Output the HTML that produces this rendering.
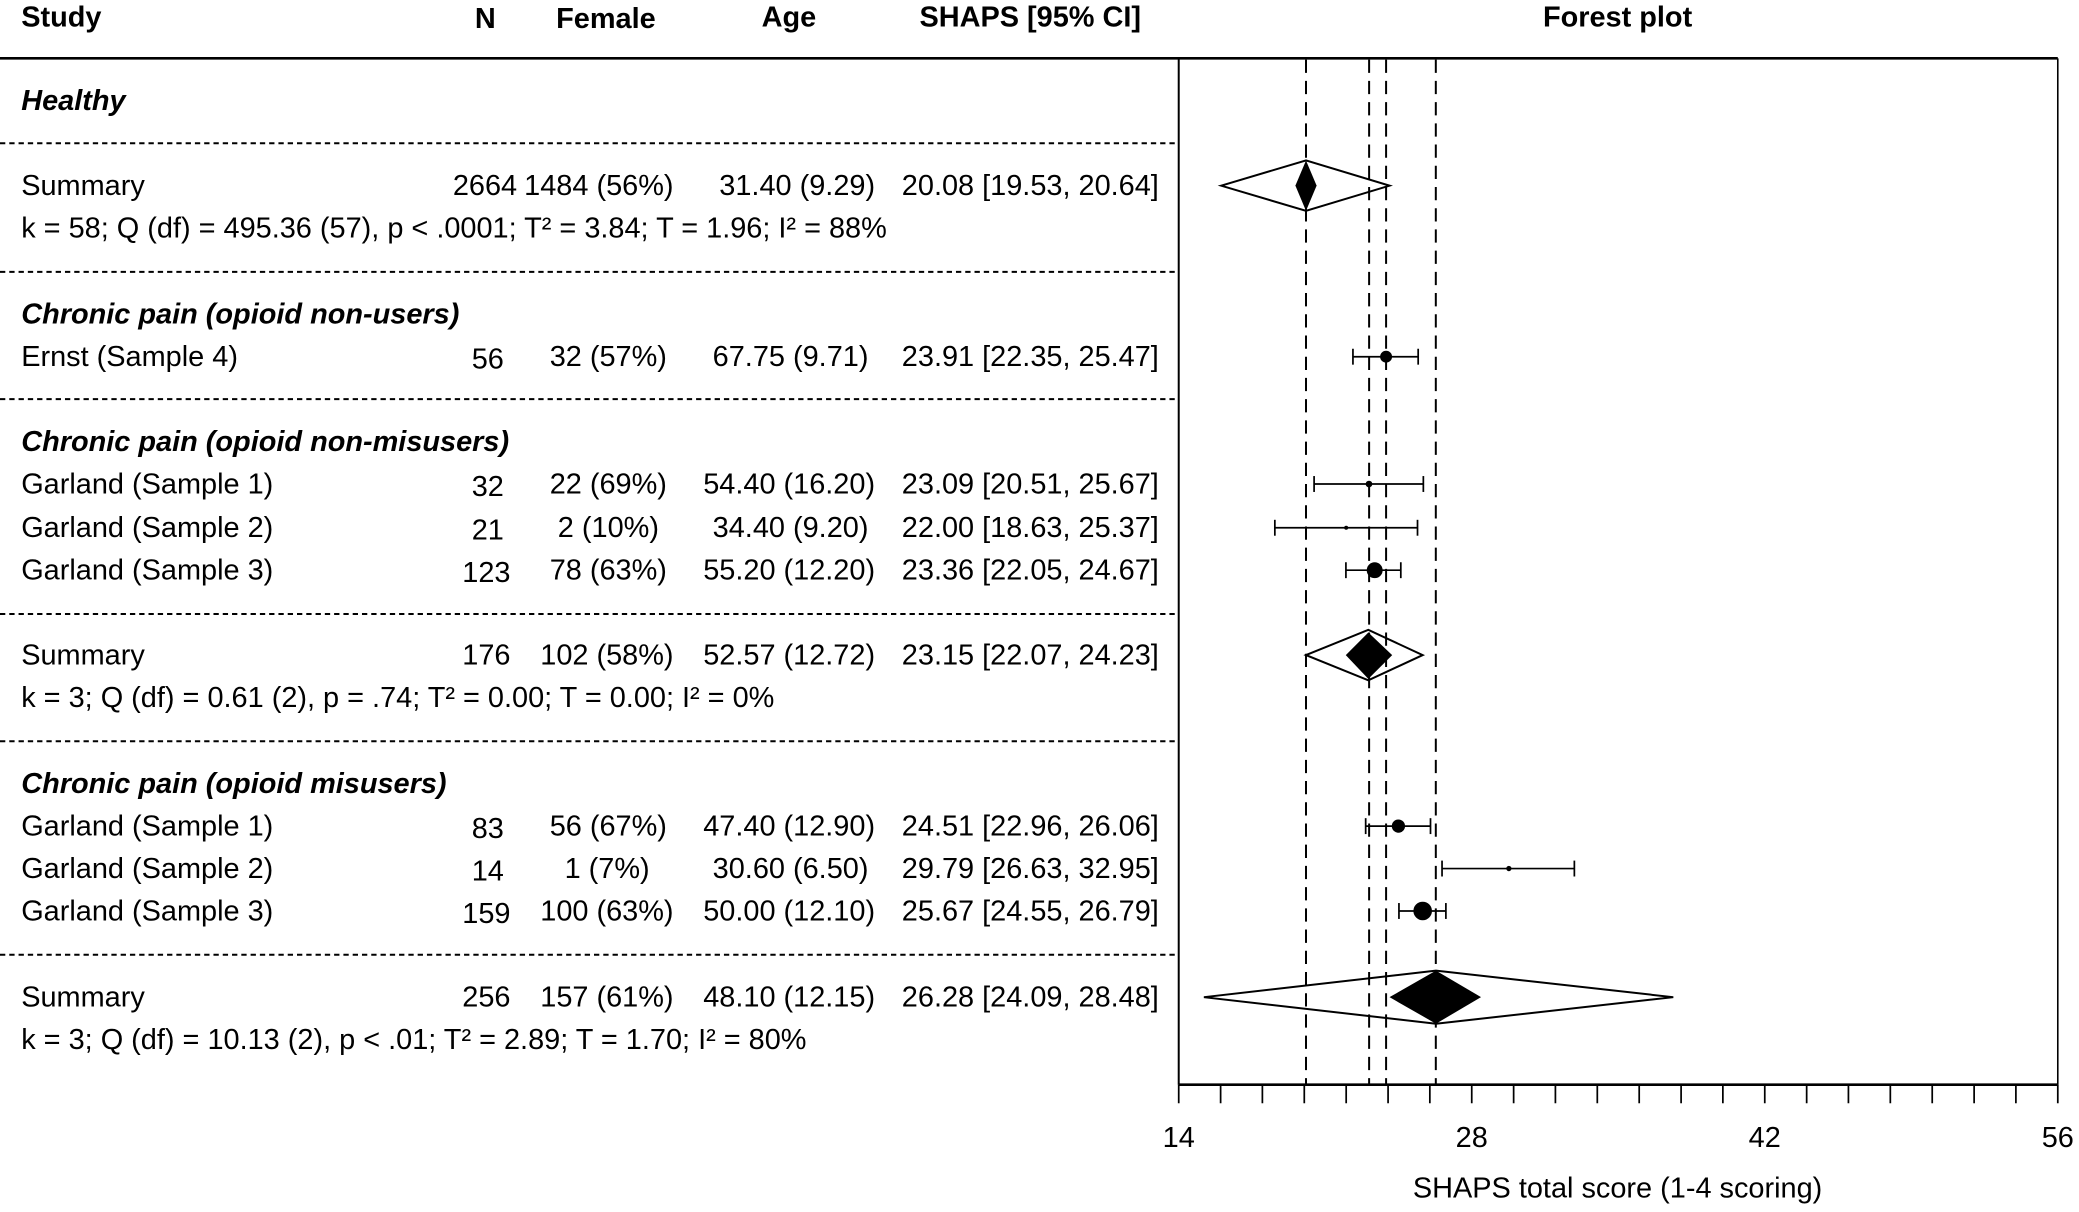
<!DOCTYPE html>
<html><head><meta charset="utf-8"><style>
html,body{margin:0;padding:0;background:#fff;}
svg{display:block;}
text{font-family:"Liberation Sans",Arial,sans-serif;font-size:21.8px;fill:#000;}
.b{font-weight:bold;}
.bi{font-weight:bold;font-style:italic;}
.e{text-anchor:end;}
.m{text-anchor:middle;}
</style></head><body>
<svg width="2079" height="1212" viewBox="0 0 1568 914" preserveAspectRatio="none" xmlns="http://www.w3.org/2000/svg">
<rect width="1568" height="914" fill="#fff"/>
<text class="b" x="16" y="20">Study</text>
<text class="b m" x="366" y="21">N</text>
<text class="b m" x="457" y="21">Female</text>
<text class="b m" x="595" y="20">Age</text>
<text class="b m" x="777" y="20">SHAPS [95% CI]</text>
<text class="b m" x="1220" y="20">Forest plot</text>
<line x1="0" y1="44" x2="1552" y2="44" stroke="#000" stroke-width="2"/>
<g stroke="#000" stroke-width="1.5" stroke-dasharray="4,3">
<line x1="0" y1="108" x2="889" y2="108"/>
<line x1="0" y1="205" x2="889" y2="205"/>
<line x1="0" y1="301" x2="889" y2="301"/>
<line x1="0" y1="463" x2="889" y2="463"/>
<line x1="0" y1="559" x2="889" y2="559"/>
<line x1="0" y1="720" x2="889" y2="720"/>
</g>
<line x1="889" y1="44" x2="889" y2="818" stroke="#000" stroke-width="1.5"/>
<line x1="1552" y1="44" x2="1552" y2="818" stroke="#000" stroke-width="1.2"/>
<line x1="889" y1="818" x2="1552" y2="818" stroke="#000" stroke-width="2"/>
<g stroke="#000" stroke-width="1.3">
<line x1="889" y1="818" x2="889" y2="832"/><line x1="920.6" y1="818" x2="920.6" y2="832"/><line x1="952.1" y1="818" x2="952.1" y2="832"/><line x1="983.7" y1="818" x2="983.7" y2="832"/><line x1="1015.3" y1="818" x2="1015.3" y2="832"/><line x1="1046.9" y1="818" x2="1046.9" y2="832"/><line x1="1078.4" y1="818" x2="1078.4" y2="832"/><line x1="1110" y1="818" x2="1110" y2="832"/><line x1="1141.6" y1="818" x2="1141.6" y2="832"/><line x1="1173.1" y1="818" x2="1173.1" y2="832"/><line x1="1204.7" y1="818" x2="1204.7" y2="832"/><line x1="1236.3" y1="818" x2="1236.3" y2="832"/><line x1="1267.9" y1="818" x2="1267.9" y2="832"/><line x1="1299.4" y1="818" x2="1299.4" y2="832"/><line x1="1331" y1="818" x2="1331" y2="832"/><line x1="1362.6" y1="818" x2="1362.6" y2="832"/><line x1="1394.1" y1="818" x2="1394.1" y2="832"/><line x1="1425.7" y1="818" x2="1425.7" y2="832"/><line x1="1457.3" y1="818" x2="1457.3" y2="832"/><line x1="1488.9" y1="818" x2="1488.9" y2="832"/><line x1="1520.4" y1="818" x2="1520.4" y2="832"/><line x1="1552" y1="818" x2="1552" y2="832"/>
</g>
<text class="m" x="889" y="865">14</text>
<text class="m" x="1110" y="865">28</text>
<text class="m" x="1331" y="865">42</text>
<text class="m" x="1552" y="865">56</text>
<text class="m" x="1220" y="903">SHAPS total score (1-4 scoring)</text>
<g stroke="#000" stroke-width="1.5" stroke-dasharray="10,6">
<line x1="985" y1="45" x2="985" y2="818"/>
<line x1="1032.6" y1="45" x2="1032.6" y2="818"/>
<line x1="1045.4" y1="45" x2="1045.4" y2="818"/>
<line x1="1082.9" y1="45" x2="1082.9" y2="818"/>
</g>
<polygon points="921,140 985,121 1048,140 985,159" fill="none" stroke="#000" stroke-width="1.5"/>
<polygon points="977,140 985,121 993,140 985,159" fill="#000"/>
<polygon points="985,494 1032,475 1073,494 1032,513" fill="none" stroke="#000" stroke-width="1.5"/>
<polygon points="1015,494 1032,477 1050,494 1032,512" fill="#000"/>
<polygon points="908,752 1083,732 1262,752 1083,772" fill="none" stroke="#000" stroke-width="1.5"/>
<polygon points="1048,752 1083,732 1117,752 1083,772" fill="#000"/>
<g stroke="#000" stroke-width="1.3">
<line x1="1020.4" y1="269" x2="1069.6" y2="269"/><line x1="1020.4" y1="263" x2="1020.4" y2="275"/><line x1="1069.6" y1="263" x2="1069.6" y2="275"/>
<line x1="991.1" y1="365" x2="1073.5" y2="365"/><line x1="991.1" y1="359" x2="991.1" y2="371"/><line x1="1073.5" y1="359" x2="1073.5" y2="371"/>
<line x1="961.5" y1="398" x2="1069.1" y2="398"/><line x1="961.5" y1="392" x2="961.5" y2="404"/><line x1="1069.1" y1="392" x2="1069.1" y2="404"/>
<line x1="1015.1" y1="430" x2="1056.5" y2="430"/><line x1="1015.1" y1="424" x2="1015.1" y2="436"/><line x1="1056.5" y1="424" x2="1056.5" y2="436"/>
<line x1="1030.0" y1="623" x2="1078.9" y2="623"/><line x1="1030.0" y1="617" x2="1030.0" y2="629"/><line x1="1078.9" y1="617" x2="1078.9" y2="629"/>
<line x1="1087.6" y1="655" x2="1187.4" y2="655"/><line x1="1087.6" y1="649" x2="1087.6" y2="661"/><line x1="1187.4" y1="649" x2="1187.4" y2="661"/>
<line x1="1055.1" y1="687" x2="1090.5" y2="687"/><line x1="1055.1" y1="681" x2="1055.1" y2="693"/><line x1="1090.5" y1="681" x2="1090.5" y2="693"/>
</g>
<circle cx="1045.4" cy="269" r="4.5" fill="#000"/>
<circle cx="1032.5" cy="365" r="2.5" fill="#000"/>
<circle cx="1015.3" cy="398" r="1.5" fill="#000"/>
<circle cx="1036.8" cy="430" r="6" fill="#000"/>
<circle cx="1054.7" cy="623" r="5" fill="#000"/>
<circle cx="1138" cy="655" r="2" fill="#000"/>
<circle cx="1073" cy="687" r="7" fill="#000"/>
<text class="bi" x="16" y="83">Healthy</text>
<text x="16" y="147">Summary</text><text class="e" x="390" y="147">2664</text><text class="e" x="508" y="147">1484 (56%)</text><text class="e" x="660" y="147">31.40 (9.29)</text><text class="e" x="874" y="147">20.08 [19.53, 20.64]</text>
<text x="16" y="179">k = 58; Q (df) = 495.36 (57), p &lt; .0001; T² = 3.84; T = 1.96; I² = 88%</text>
<text class="bi" x="16" y="244">Chronic pain (opioid non-users)</text>
<text x="16" y="276">Ernst (Sample 4)</text><text class="e" x="380" y="278">56</text><text class="e" x="503" y="276">32 (57%)</text><text class="e" x="655" y="276">67.75 (9.71)</text><text class="e" x="874" y="276">23.91 [22.35, 25.47]</text>
<text class="bi" x="16" y="340">Chronic pain (opioid non-misusers)</text>
<text x="16" y="372">Garland (Sample 1)</text><text class="e" x="380" y="374">32</text><text class="e" x="503" y="372">22 (69%)</text><text class="e" x="660" y="372">54.40 (16.20)</text><text class="e" x="874" y="372">23.09 [20.51, 25.67]</text>
<text x="16" y="405">Garland (Sample 2)</text><text class="e" x="380" y="407">21</text><text class="e" x="497" y="405">2 (10%)</text><text class="e" x="655" y="405">34.40 (9.20)</text><text class="e" x="874" y="405">22.00 [18.63, 25.37]</text>
<text x="16" y="437">Garland (Sample 3)</text><text class="e" x="385" y="439">123</text><text class="e" x="503" y="437">78 (63%)</text><text class="e" x="660" y="437">55.20 (12.20)</text><text class="e" x="874" y="437">23.36 [22.05, 24.67]</text>
<text x="16" y="501">Summary</text><text class="e" x="385" y="501">176</text><text class="e" x="508" y="501">102 (58%)</text><text class="e" x="660" y="501">52.57 (12.72)</text><text class="e" x="874" y="501">23.15 [22.07, 24.23]</text>
<text x="16" y="533">k = 3; Q (df) = 0.61 (2), p = .74; T² = 0.00; T = 0.00; I² = 0%</text>
<text class="bi" x="16" y="598">Chronic pain (opioid misusers)</text>
<text x="16" y="630">Garland (Sample 1)</text><text class="e" x="380" y="632">83</text><text class="e" x="503" y="630">56 (67%)</text><text class="e" x="660" y="630">47.40 (12.90)</text><text class="e" x="874" y="630">24.51 [22.96, 26.06]</text>
<text x="16" y="662">Garland (Sample 2)</text><text class="e" x="380" y="664">14</text><text class="e" x="490" y="662">1 (7%)</text><text class="e" x="655" y="662">30.60 (6.50)</text><text class="e" x="874" y="662">29.79 [26.63, 32.95]</text>
<text x="16" y="694">Garland (Sample 3)</text><text class="e" x="385" y="696">159</text><text class="e" x="508" y="694">100 (63%)</text><text class="e" x="660" y="694">50.00 (12.10)</text><text class="e" x="874" y="694">25.67 [24.55, 26.79]</text>
<text x="16" y="759">Summary</text><text class="e" x="385" y="759">256</text><text class="e" x="508" y="759">157 (61%)</text><text class="e" x="660" y="759">48.10 (12.15)</text><text class="e" x="874" y="759">26.28 [24.09, 28.48]</text>
<text x="16" y="791">k = 3; Q (df) = 10.13 (2), p &lt; .01; T² = 2.89; T = 1.70; I² = 80%</text>
</svg>
</body></html>
